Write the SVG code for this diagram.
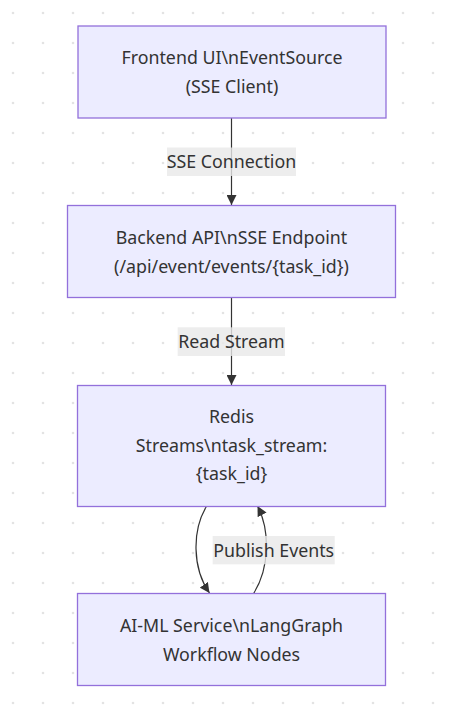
<svg xmlns="http://www.w3.org/2000/svg" width="460" height="716" viewBox="0 0 460 716">
  <defs>
    <pattern id="dots" width="30" height="30" patternUnits="userSpaceOnUse">
      <circle cx="13" cy="13" r="1.3" fill="#e3e3e3"/>
    </pattern>
    <marker id="arrow" viewBox="0 0 10 10" refX="10" refY="5" markerWidth="10" markerHeight="10" markerUnits="userSpaceOnUse" orient="auto">
      <path d="M0,0 L10,5 L0,10 z" fill="#333"/>
    </marker>
  </defs>
  <style>
    .node rect { fill: #ECECFF; stroke: #9370DB; stroke-width: 1.3; }
    .node text, .label text { font-family: "Noto Sans", "Open Sans", "Liberation Sans", sans-serif; font-size: 17.8px; fill: #333; text-anchor: middle; }
    .edge { fill: none; stroke: #333; stroke-width: 1.2; marker-end: url(#arrow); }
    .label rect { fill: #e8e8e8; opacity: 0.8; }
  </style>
  <rect width="460" height="716" fill="#ffffff"/>
  <rect width="460" height="716" fill="url(#dots)"/>

  <g id="connectors">
    <path class="edge" d="M231.5,118 L231.5,205"/>
    <path class="edge" d="M231.5,298 L231.5,385"/>
    <path class="edge" d="M206.7,506 C192,530 192,568 209.5,593"/>
    <path class="edge" d="M253.3,594 C270,568 270,530 257.5,506"/>
  </g>

  <g id="node-frontend" class="node">
    <rect x="78" y="26" width="308" height="92"/>
    <text x="232" y="64">Frontend UI\nEventSource</text>
    <text x="232" y="92.5">(SSE Client)</text>
  </g>
  <g id="node-backend" class="node">
    <rect x="67.5" y="205.5" width="328" height="92"/>
    <text x="231.5" y="244">Backend API\nSSE Endpoint</text>
    <text x="231.5" y="272.5">(/api/event/events/{task_id})</text>
  </g>
  <g id="node-redis" class="node">
    <rect x="77.5" y="385.5" width="308" height="121"/>
    <text x="231.5" y="423">Redis</text>
    <text x="231.5" y="451.7">Streams\ntask_stream:</text>
    <text x="231.5" y="480.3">{task_id}</text>
  </g>
  <g id="node-aiml" class="node">
    <rect x="77.5" y="593.5" width="308" height="92"/>
    <text x="231.5" y="632">AI-ML Service\nLangGraph</text>
    <text x="231.5" y="660.5">Workflow Nodes</text>
  </g>

  <g id="edge-labels">
    <g id="label-sse" class="label">
      <rect x="167" y="147.5" width="129" height="28.5"/>
      <text x="231.5" y="168">SSE Connection</text>
    </g>
    <g id="label-read" class="label">
      <rect x="177.7" y="327.3" width="107.3" height="28.7"/>
      <text x="231.5" y="348">Read Stream</text>
    </g>
    <g id="label-publish" class="label">
      <rect x="212.7" y="536" width="122" height="28.3"/>
      <text x="273.7" y="556.5">Publish Events</text>
    </g>
  </g>
</svg>
